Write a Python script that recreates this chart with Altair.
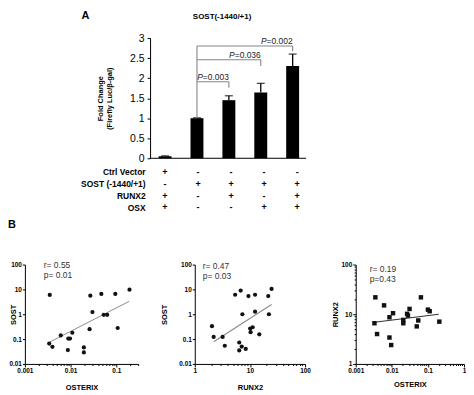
import altair as alt
import pandas as pd

# ---------------- Panel A : luciferase assay ----------------
bar_pos = [0, 1, 2, 3, 4]
fold_change = [0.05, 1.00, 1.45, 1.64, 2.30]
fold_error = [0.01, 0.01, 0.11, 0.23, 0.30]

row_labels = ["Ctrl Vector", "SOST (-1440/+1)", "RUNX2", "OSX"]
ctrl_signs = ["+", "-", "-", "-", "-"]
sost_signs = ["-", "+", "+", "+", "+"]
runx2_signs = ["+", "-", "+", "-", "+"]
osx_signs = ["+", "-", "-", "+", "+"]

bracket_start = 1
bracket_base = 1.00
bracket_end = [2, 3, 4]
bracket_level = [1.91, 2.46, 2.80]
bracket_drop = [1.76, 2.30, 2.67]
p_text = ["=0.003", "=0.036", "=0.002"]

xaxis_start = -0.48
xaxis_end = 4.42
y_ticks_a = [0, 0.5, 1, 1.5, 2, 2.5, 3]

# ---------------- Panel B : correlations ----------------
osx_1 = [0.0035, 0.027, 0.047, 0.095, 0.194, 0.030, 0.053, 0.063, 0.107, 0.026,
         0.0109, 0.0061, 0.0089, 0.0097, 0.0034, 0.0040, 0.0087, 0.0195, 0.0195]
sost_1 = [6.0, 5.6, 6.6, 6.6, 9.8, 1.23, 0.95, 0.95, 0.28, 0.25,
          0.18, 0.14, 0.105, 0.105, 0.066, 0.049, 0.036, 0.046, 0.029]
fit_osx_1 = [0.0033, 0.19]
fit_sost_1 = [0.072, 3.3]

runx2_2 = [5.4, 6.8, 9.4, 12.4, 24.7, 21.5, 12.4, 7.3, 22.1, 2.05, 10.1,
           11.2, 10.3, 14.8, 2.2, 3.2, 3.5, 6.4, 7.1, 6.4, 8.4]
sost_2 = [6.1, 9.0, 5.4, 6.1, 10.5, 5.4, 1.27, 1.0, 1.0, 0.33, 0.265,
          0.30, 0.19, 0.155, 0.122, 0.122, 0.054, 0.073, 0.05, 0.035, 0.04]
fit_runx2_2 = [2.2, 24.7]
fit_sost_2 = [0.078, 2.46]

osx_3 = [0.0035, 0.064, 0.0061, 0.031, 0.10, 0.112, 0.0108, 0.0265, 0.028, 0.0086,
         0.0208, 0.0208, 0.054, 0.0033, 0.049, 0.207, 0.0039, 0.0086, 0.0096]
runx2_3 = [21.9, 21.9, 15.1, 12.8, 12.4, 11.5, 10.5, 10.2, 9.4, 8.7,
           7.7, 6.6, 7.5, 6.6, 5.7, 7.1, 4.0, 3.4, 2.4]
fit_osx_3 = [0.0033, 0.2]
fit_runx2_3 = [6.9, 10.0]

stats_1 = "r= 0.55\np= 0.01"
stats_2 = "r= 0.47\np= 0.03"
stats_3 = "r= 0.19\np=0.43"

ticks_osx_1 = [0.001, 0.002, 0.003, 0.004, 0.005, 0.006, 0.007, 0.008, 0.009,
               0.01, 0.02, 0.03, 0.04, 0.05, 0.06, 0.07, 0.08, 0.09, 0.1, 0.2, 0.3]
ticks_runx2_x = [1, 2, 3, 4, 5, 6, 7, 8, 9, 10, 20, 30, 40, 50, 60, 70, 80, 90, 100]
ticks_osx_3 = [0.001, 0.002, 0.003, 0.004, 0.005, 0.006, 0.007, 0.008, 0.009,
               0.01, 0.02, 0.03, 0.04, 0.05, 0.06, 0.07, 0.08, 0.09,
               0.1, 0.2, 0.3, 0.4, 0.5, 0.6, 0.7, 0.8, 0.9, 1]
ticks_sost = [0.01, 0.1, 1, 10, 100]
ticks_runx2_y = [1, 2, 3, 4, 5, 6, 7, 8, 9, 10, 20, 30, 40, 50, 60, 70, 80, 90, 100]

FONT = "Liberation Sans"
IS_DECADE = "abs(log(datum.value)/LN10 - round(log(datum.value)/LN10)) < 0.001"
DECADE_LABEL = IS_DECADE + " ? datum.label : ''"
MINOR_TICKS = {"condition": {"test": IS_DECADE, "value": 3}, "value": 1.6}

# ---------------- Build panel A ----------------
bars_df = pd.DataFrame({"pos": bar_pos, "fold": fold_change, "err": fold_error})
bars_df["top"] = bars_df["fold"] + bars_df["err"]

seg_rows = [{"x": bracket_start, "x2": bracket_start, "y": bracket_base, "y2": max(bracket_level)}]
for e, lv, dp in zip(bracket_end, bracket_level, bracket_drop):
    seg_rows.append({"x": bracket_start, "x2": e, "y": lv, "y2": lv})
    seg_rows.append({"x": e, "x2": e, "y": dp, "y2": lv})
seg_df = pd.DataFrame(seg_rows)
p_df = pd.DataFrame({"x": bracket_end, "y": bracket_level, "txt": p_text})
axis_df = pd.DataFrame({"x": [xaxis_start], "x2": [xaxis_end], "y": [0]})

TOP_W, TOP_H = 288, 121
XDOM = [-4.24, 4.42]
xscale_a = alt.Scale(domain=XDOM, nice=False, zero=False)
yscale_a = alt.Scale(domain=[0, 3], nice=False)
yaxis_a = alt.Axis(
    offset=-126, values=y_ticks_a, format="~g", grid=False,
    title=["Fold Change", "(Firefly Luc/\u03b2-gal)"], titleFontSize=7.5,
    titleFontWeight="bold", titlePadding=16, titleLineHeight=9,
    labelFontSize=10.5, labelPadding=3, tickSize=3,
    domainColor="black", tickColor="black", labelColor="black", titleColor="black",
)


def xa(field):
    return alt.X(f"{field}:Q", scale=xscale_a, axis=None)


def ya(field):
    return alt.Y(f"{field}:Q", scale=yscale_a, axis=yaxis_a)


bars = alt.Chart(bars_df).mark_bar(size=13, color="black").encode(x=xa("pos"), y=ya("fold"))
err_rule = alt.Chart(bars_df).mark_rule(color="black", strokeWidth=1.3).encode(
    x=xa("pos"), y=ya("fold"), y2="top:Q")
err_cap = alt.Chart(bars_df).mark_tick(orient="horizontal", size=8, thickness=1.3, color="black").encode(
    x=xa("pos"), y=ya("top"))
base_line = alt.Chart(axis_df).mark_rule(color="black", strokeWidth=1).encode(
    x=xa("x"), x2="x2:Q", y=ya("y"))
brackets = alt.Chart(seg_df).mark_rule(color="#858585", strokeWidth=1.1).encode(
    x=xa("x"), x2="x2:Q", y=ya("y"), y2="y2:Q")
p_num = alt.Chart(p_df).mark_text(align="right", baseline="alphabetic", dy=-2, fontSize=8.5,
                                  color="#222", font=FONT).encode(x=xa("x"), y=ya("y"), text="txt:N")
p_ital = alt.Chart(p_df).mark_text(align="right", baseline="alphabetic", dy=-2, dx=-26.2, fontSize=8.5,
                                   fontStyle="italic", color="#222", font=FONT).encode(
    x=xa("x"), y=ya("y"), text=alt.value("P"))
lab_a = alt.Chart(pd.DataFrame({"t": ["A"]})).mark_text(
    align="left", baseline="alphabetic", fontSize=11, fontWeight="bold", color="black", font=FONT
).encode(x=alt.value(57), y=alt.value(-19.5), text="t:N")
title_a = alt.Chart(pd.DataFrame({"t": ["SOST(-1440/+1)"]})).mark_text(
    align="center", baseline="alphabetic", fontSize=8, fontWeight="bold", color="black", font=FONT
).encode(x=alt.value(198.5), y=alt.value(-19.5), text="t:N")

bar_chart = alt.layer(base_line, bars, err_rule, err_cap, brackets, p_num, p_ital, lab_a, title_a).properties(
    width=TOP_W, height=TOP_H)

sign_rows = []
for lbl, signs in zip(row_labels, [ctrl_signs, sost_signs, runx2_signs, osx_signs]):
    for p, s in zip(bar_pos, signs):
        sign_rows.append({"pos": p, "row": lbl, "sign": s})
table_df = pd.DataFrame(sign_rows)

table = alt.Chart(table_df).mark_text(fontSize=9, fontWeight="bold", baseline="middle", color="black",
                                      font=FONT).encode(
    x=alt.X("pos:Q", scale=xscale_a, axis=None),
    y=alt.Y("row:N", sort=row_labels, scale=alt.Scale(paddingInner=0, paddingOuter=0),
            axis=alt.Axis(offset=-127, ticks=False, domain=False, labelPadding=6, labelFontSize=8.5,
                          labelFontWeight="bold", labelColor="black", title=None)),
    text="sign:N",
).properties(width=TOP_W, height=48)

top = alt.vconcat(bar_chart, table, spacing=1.5)


# ---------------- Build panel B ----------------
def scatter_panel(xs, ys, fx, fy, xdom, ydom, xvals, yvals, w, h, xt, yt, xtp, ytp,
                  square, fitcolor, stats, sx, sy, ytick, extra=None):
    df = pd.DataFrame({"xv": xs, "yv": ys})
    fit_df = pd.DataFrame({"xv": fx, "yv": fy})
    common = dict(labelExpr=DECADE_LABEL, format="~g", labelFlush=False, labelOverlap=False,
                  labelPadding=1, labelFontSize=6.5, labelFontWeight="bold", titleFontSize=7.5,
                  titleFontWeight="bold", grid=False, domainColor="black", tickColor="black",
                  labelColor="black", titleColor="black")
    xenc = alt.X("xv:Q", scale=alt.Scale(type="log", domain=xdom, nice=False),
                 axis=alt.Axis(values=xvals, title=xt, titlePadding=xtp, tickSize=MINOR_TICKS, **common))
    yenc = alt.Y("yv:Q", scale=alt.Scale(type="log", domain=ydom, nice=False),
                 axis=alt.Axis(values=yvals, title=yt, titlePadding=ytp, tickSize=ytick, **common))
    if square:
        pts = alt.Chart(df).mark_square(size=20, color="#111", opacity=1)
    else:
        pts = alt.Chart(df).mark_circle(size=18, color="#111", opacity=1)
    pts = pts.encode(x=xenc, y=yenc)
    line = alt.Chart(fit_df).mark_line(color=fitcolor, strokeWidth=1.1).encode(x=xenc, y=yenc)
    txt = alt.Chart(pd.DataFrame({"t": [stats]})).mark_text(
        align="left", baseline="top", lineBreak="\n", lineHeight=11, fontSize=8.5, color="#333", font=FONT
    ).encode(x=alt.value(sx), y=alt.value(sy), text="t:N")
    layers = [line, pts, txt]
    if extra is not None:
        layers.append(extra)
    return alt.layer(*layers).properties(width=w, height=h)


lab_b = alt.Chart(pd.DataFrame({"t": ["B"]})).mark_text(
    align="left", baseline="alphabetic", fontSize=11, fontWeight="bold", color="black", font=FONT
).encode(x=alt.value(-17), y=alt.value(-37), text="t:N")

p1 = scatter_panel(osx_1, sost_1, fit_osx_1, fit_sost_1, [0.001, 0.3], [0.01, 100], ticks_osx_1, ticks_sost,
                   114, 100, "OSTERIX", "SOST", 9, -8.3, False, "#8a8a8a", stats_1, 19, -4, 2.5, extra=lab_b)
p2 = scatter_panel(runx2_2, sost_2, fit_runx2_2, fit_sost_2, [1, 100], [0.01, 100], ticks_runx2_x, ticks_sost,
                   111, 100, "RUNX2", "SOST", 9.5, 10.7, False, "#8a8a8a", stats_2, 8, -3, 2.5)
p3 = scatter_panel(osx_3, runx2_3, fit_osx_3, fit_runx2_3, [0.001, 1], [1, 100], ticks_osx_3, ticks_runx2_y,
                   109, 100, "OSTERIX", "RUNX2", 6, 1, True, "#333333", stats_3, 14, 0, MINOR_TICKS)

bottom = alt.hconcat(p1, p2, p3, spacing=21)

chart = alt.vconcat(top, bottom, spacing=5).properties(padding=0).configure(
    font=FONT).configure_view(stroke=None)

chart.save("out.html", embed_options={"renderer": "svg", "actions": False})
